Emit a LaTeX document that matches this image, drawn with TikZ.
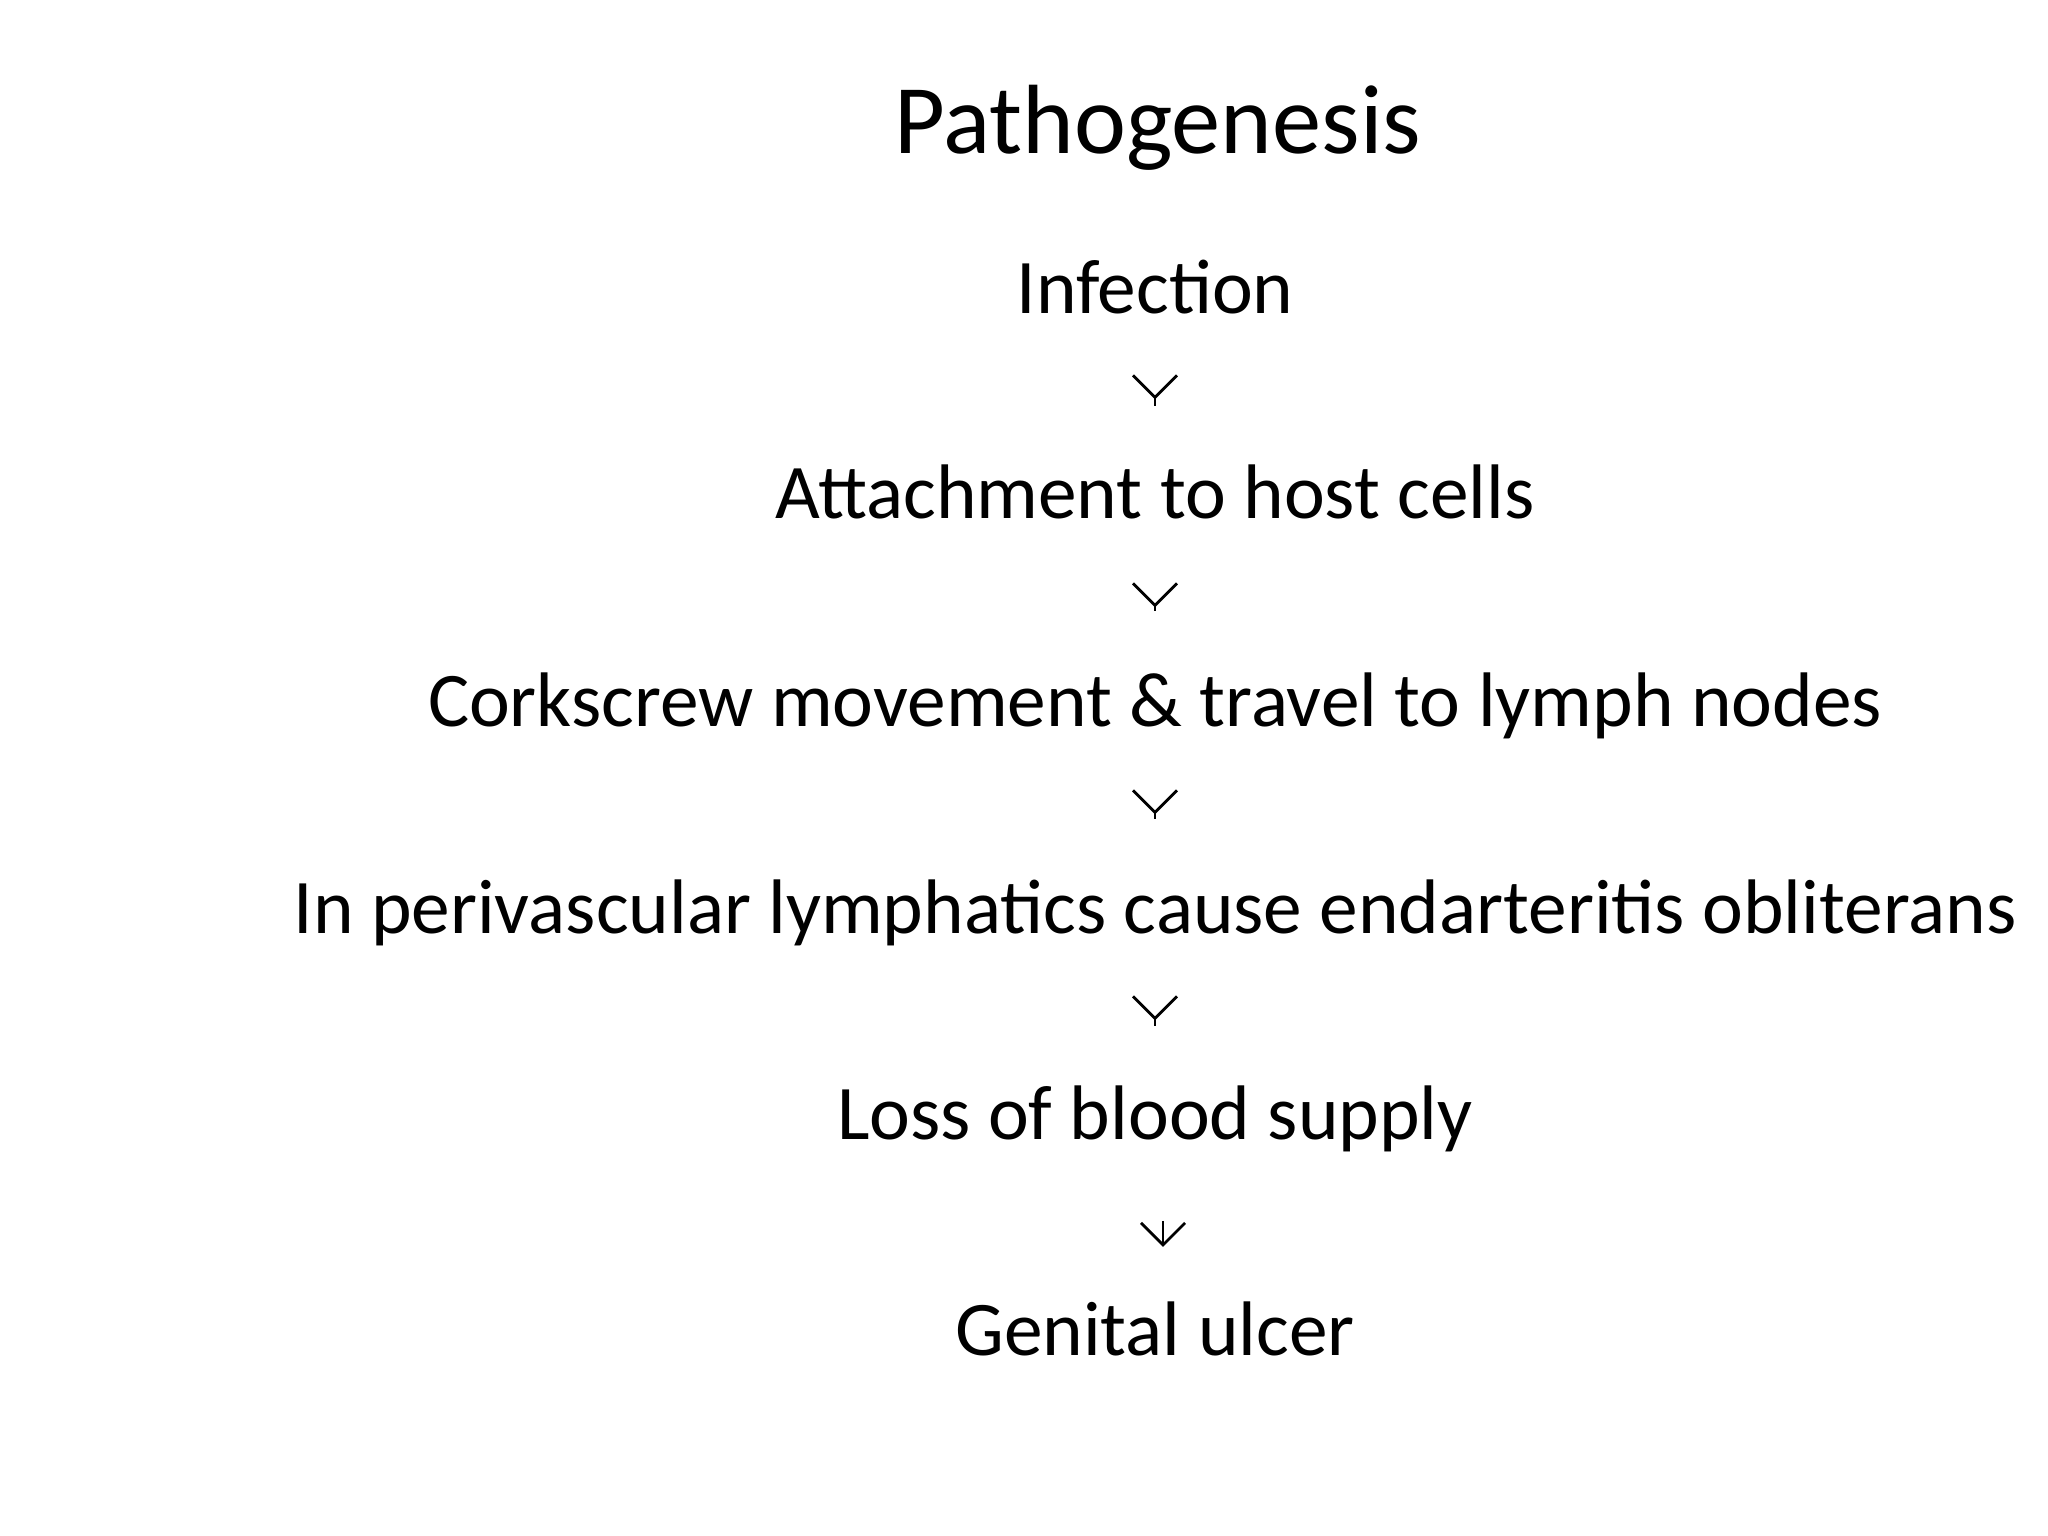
\documentclass[tikz,border=0pt]{standalone}
\usepackage{fontspec}
\setmainfont{Carlito}
\usetikzlibrary{arrows.meta}
\begin{document}
\begin{tikzpicture}[
  stepbox/.style={font=\fontsize{22}{26}\selectfont, inner sep=0pt, text height=0.4cm, text depth=0.12cm},
  flow/.style={-{Straight Barb[length=2.2mm,width=4.4mm]}, line width=0.8pt, shorten <=0.79cm, shorten >=0.79cm}]
\useasboundingbox (0,0) rectangle (20.48,15.36);
\node[font=\fontsize{28}{32}\selectfont, inner sep=0pt] (title) at (11.58,14.08) {Pathogenesis};
\node[stepbox] (n1) at (11.55,12.36) {Infection};
\node[stepbox] (n2) at (11.55,10.31) {Attachment to host cells};
\node[stepbox] (n3) at (11.55,8.23) {Corkscrew movement \& travel to lymph nodes};
\node[stepbox] (n4) at (11.55,6.16) {In perivascular lymphatics cause endarteritis obliterans};
\node[stepbox] (n5) at (11.55,4.10) {Loss of blood supply};
\node[stepbox] (n6) at (11.55,1.94) {Genital ulcer};
\draw[flow] (n1) -- (n2);
\draw[flow] (n2) -- (n3);
\draw[flow] (n3) -- (n4);
\draw[flow] (n4) -- (n5);
\draw[flow, shorten <=0.95cm, shorten >=0.95cm] ([xshift=0.08cm]n5.center) -- ([xshift=0.08cm]n6.center);
\end{tikzpicture}
\end{document}
